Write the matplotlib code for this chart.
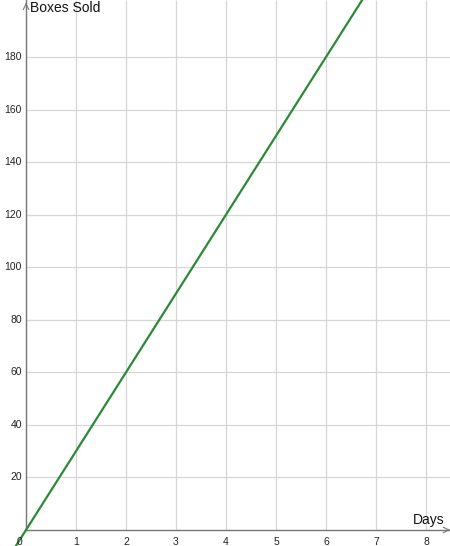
import matplotlib
matplotlib.use("Agg")
import matplotlib.pyplot as plt
import numpy as np

# Data
days = [-0.2, 6.75]
boxes_per_day = 30
boxes = [boxes_per_day * d for d in days]
x_ticks = [1, 2, 3, 4, 5, 6, 7, 8]
y_ticks = [20, 40, 60, 80, 100, 120, 140, 160, 180]
x_label = "Days"
y_label = "Boxes Sold"

XMIN, XMAX = -0.52, 8.48
YMIN, YMAX = -6.1, 201.7

plt.rcParams["font.family"] = ["Liberation Sans", "DejaVu Sans"]

fig = plt.figure(figsize=(4.5, 5.46), dpi=100)
ax = fig.add_axes([0, 0, 1, 1])
ax.set_xlim(XMIN, XMAX)
ax.set_ylim(YMIN, YMAX)
ax.axis("off")

grid_c = "#d6d6d6"
ax.vlines(x_ticks, 0, YMAX, colors=grid_c, linewidth=0.9, zorder=1)
ax.hlines(y_ticks, 0, XMAX, colors=grid_c, linewidth=0.9, zorder=1)

axis_c = "#777777"
ax.plot([0, 0], [0, YMAX], color=axis_c, linewidth=1.0, zorder=2)
ax.plot([0, XMAX], [0, 0], color=axis_c, linewidth=1.0, zorder=2)
# arrow heads
ax.annotate("", xy=(0, YMAX), xytext=(0, YMAX - 3),
            arrowprops=dict(arrowstyle="->", color=axis_c, lw=0.8))
ax.annotate("", xy=(XMAX, 0), xytext=(XMAX - 0.1, 0),
            arrowprops=dict(arrowstyle="->", color=axis_c, lw=0.8))

ax.plot(days, boxes, color="#2b8a36", linewidth=1.6, zorder=3, clip_on=True)

fs = 7.5
for t in x_ticks:
    ax.text(t, -2.8, str(t), ha="center", va="top", fontsize=fs, color="#222222")
for t in y_ticks:
    ax.text(-0.08, t, str(t), ha="right", va="center", fontsize=fs, color="#222222")
ax.text(-0.08, -2.8, "0", ha="right", va="top", fontsize=fs, color="#222222")

ax.text(0.08, YMAX - 0.3, y_label, ha="left", va="top", fontsize=10, color="#111111")
ax.text(XMAX - 0.12, 1.2, x_label, ha="right", va="bottom", fontsize=10, color="#111111")

fig.savefig("out.png", dpi=100)
